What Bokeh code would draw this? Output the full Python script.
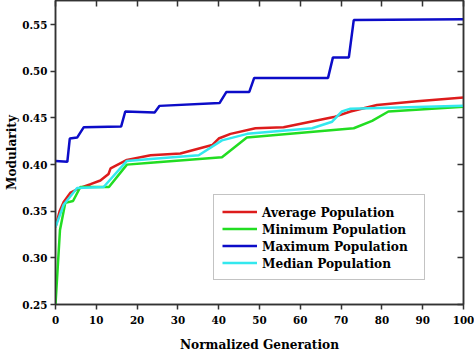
from bokeh.plotting import figure
from bokeh.models import (LinearAxis, SingleIntervalTicker, Range1d, Legend, LegendItem,
                          NumeralTickFormatter, CustomJSTickFormatter)
from bokeh.embed import file_html
from bokeh.resources import INLINE

max_x = [0, 2.9, 3.5, 5.3, 6.9, 16.1, 17.1, 24.3, 25.5, 40.2, 41.9, 47.5, 48.7, 66.8, 68.0, 71.9, 73.1, 100]
max_y = [0.404, 0.403, 0.428, 0.429, 0.440, 0.441, 0.457, 0.456, 0.463, 0.466, 0.478, 0.478, 0.493, 0.493, 0.515, 0.515, 0.555, 0.556]

avg_x = [0, 1, 2, 3.7, 6, 8.6, 11, 13, 13.5, 17.5, 23.3, 30.6, 38.4, 40, 42.9, 49, 55.9, 62.5, 68.2, 72.3, 78.8, 88.6, 100]
avg_y = [0.333, 0.350, 0.360, 0.370, 0.375, 0.379, 0.383, 0.390, 0.396, 0.405, 0.410, 0.412, 0.421, 0.428, 0.433, 0.439, 0.440, 0.446, 0.451, 0.457, 0.464, 0.468, 0.472]

min_x = [0, 1.1, 2.4, 4.3, 6.1, 13.1, 17.5, 23.3, 40.8, 46.9, 73.1, 77.6, 81.6, 100]
min_y = [0.25, 0.33, 0.359, 0.361, 0.376, 0.376, 0.400, 0.402, 0.408, 0.429, 0.439, 0.447, 0.457, 0.462]

med_x = [0, 2.0, 5.3, 11.8, 17.5, 23.3, 35.1, 40.8, 47.0, 62.9, 67.8, 70.2, 72.3, 100]
med_y = [0.333, 0.357, 0.375, 0.376, 0.404, 0.406, 0.410, 0.426, 0.433, 0.439, 0.446, 0.457, 0.460, 0.463]

labels = ["Average Population", "Minimum Population", "Maximum Population", "Median Population"]
x_label = "Normalized Generation"
y_label = "Modularity"

FONT = "DejaVu Serif Condensed"
AX = "#333333"

p = figure(frame_width=408, frame_height=304, output_backend="svg", toolbar_location=None,
           x_range=Range1d(0, 100), y_range=Range1d(0.25, 0.576),
           min_border_left=50, min_border_right=11, min_border_top=0, min_border_bottom=0)
p.grid.visible = False
p.outline_line_color = AX
p.outline_line_width = 1.5

xt = SingleIntervalTicker(interval=10, num_minor_ticks=0)
yt = SingleIntervalTicker(interval=0.05, num_minor_ticks=0)

for ax, t in ((p.xaxis[0], xt), (p.yaxis[0], yt)):
    ax.ticker = t
    ax.axis_line_color = AX
    ax.axis_line_width = 1.5
    ax.major_tick_line_color = AX
    ax.major_tick_line_width = 1.5
    ax.major_tick_out = 5
    ax.major_tick_in = 0
    ax.minor_tick_line_color = None
    ax.major_label_text_font = FONT
    ax.major_label_text_font_style = "bold"
    ax.major_label_text_font_size = "11.5px"
    ax.major_label_text_color = "black"
    ax.axis_label_text_font = FONT
    ax.axis_label_text_font_style = "bold"
    ax.axis_label_text_font_size = "13.5px"
    ax.axis_label_text_color = "black"

p.xaxis[0].axis_label = x_label
p.yaxis[0].axis_label = y_label
p.xaxis[0].major_label_standoff = 6
p.yaxis[0].major_label_standoff = 3
p.xaxis[0].axis_label_standoff = 9
p.yaxis[0].axis_label_standoff = 0
p.yaxis[0].formatter = NumeralTickFormatter(format="0.00")

blank = CustomJSTickFormatter(code="return '';")
top = LinearAxis(ticker=SingleIntervalTicker(interval=10, num_minor_ticks=0), formatter=blank,
                 major_tick_in=6, major_tick_out=0, major_label_standoff=0,
                 major_label_text_font_size="1px",
                 axis_line_color=AX, axis_line_width=1.5,
                 major_tick_line_color=AX, major_tick_line_width=1.5, minor_tick_line_color=None)
right = LinearAxis(ticker=SingleIntervalTicker(interval=0.05, num_minor_ticks=0), formatter=blank,
                   major_tick_in=6, major_tick_out=0, major_label_standoff=0,
                   major_label_text_font_size="1px",
                   axis_line_color=AX, axis_line_width=1.5,
                   major_tick_line_color=AX, major_tick_line_width=1.5, minor_tick_line_color=None)
p.add_layout(top, "above")
p.add_layout(right, "right")

r_avg = p.line(avg_x, avg_y, line_color="#dd1c1c", line_width=2.5)
r_min = p.line(min_x, min_y, line_color="#22dd22", line_width=2.5)
r_max = p.line(max_x, max_y, line_color="#0c0cc8", line_width=2.5)
r_med = p.line(med_x, med_y, line_color="#33e8ee", line_width=2.5)

legend = Legend(items=[LegendItem(label=labels[0], renderers=[r_avg]),
                       LegendItem(label=labels[1], renderers=[r_min]),
                       LegendItem(label=labels[2], renderers=[r_max]),
                       LegendItem(label=labels[3], renderers=[r_med])],
                location=(158, 24), padding=8, spacing=0, label_height=17, glyph_height=17,
                glyph_width=35, label_standoff=5, label_width=154,
                label_text_font=FONT, label_text_font_style="bold", label_text_font_size="13.5px",
                label_text_color="black", border_line_color="#888888", border_line_width=1,
                background_fill_alpha=1.0, margin=0)
p.add_layout(legend, "center")

open("out.html", "w").write(file_html(p, INLINE))
